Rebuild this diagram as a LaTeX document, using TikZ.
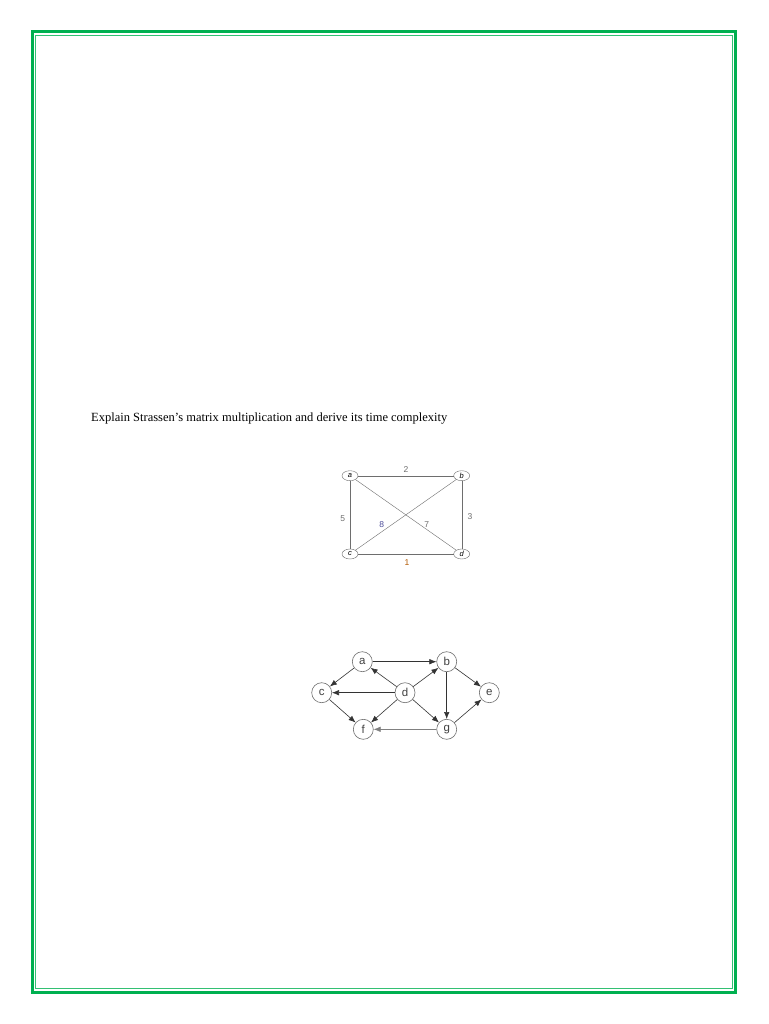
\documentclass[tikz,border=0pt]{standalone}
\usepackage{fontspec}
\setmainfont{Liberation Serif}
\newfontfamily\arialfont{Liberation Sans}
\usetikzlibrary{shapes.geometric,arrows.meta}
\definecolor{borderg}{RGB}{0,176,80}
\definecolor{edgegray}{RGB}{110,110,110}
\tikzset{
	wnode/.style={ellipse,draw=edgegray,inner sep=0pt,minimum width=16pt,minimum height=10pt,font=\arialfont\itshape\fontsize{7.5}{7.5}\selectfont},
	wlabel/.style={font=\arialfont\fontsize{8.5}{8.5}\selectfont,text=edgegray},
	dnode/.style={circle,draw=edgegray,line width=0.6pt,inner sep=0pt,minimum size=20pt,font=\arialfont\fontsize{11.5}{11.5}\selectfont,text=black!75},
	darrow/.style={-{Latex[length=7pt,width=5.5pt]},black!80,line width=0.6pt}
}
\begin{document}
\begin{tikzpicture}[x=1pt,y=-1pt]
		\useasboundingbox (0,0) rectangle (768,1024);
		\fill[white] (0,0) rectangle (768,1024);
		\draw[borderg,line width=3pt] (32,32) rectangle (735.5,992);
		\draw[borderg!80,line width=0.9pt] (35.5,35.5) rectangle (732,988.5);

		\node[anchor=base west,inner sep=0pt,font=\fontsize{12.5}{14}\selectfont] (question) at (91,421) {Explain Strassen’s matrix multiplication and derive its time complexity};

		% weighted graph
		\node[wnode] (a) at (350,475.7) {a};
		\node[wnode] (b) at (461.7,475.7) {b};
		\node[wnode] (c) at (350,554) {c};
		\node[wnode] (d) at (461.7,554) {d};
		\draw[edgegray] (a) -- (b);
		\draw[edgegray] (a) -- (c);
		\draw[edgegray] (b) -- (d);
		\draw[edgegray] (c) -- (d);
		\draw[edgegray] (a) -- (d);
		\draw[edgegray] (c) -- (b);
		\node[wlabel] (w2) at (406,469.5) {2};
		\node[wlabel] (w5) at (342.7,518.5) {5};
		\node[wlabel] (w3) at (470,516.5) {3};
		\node[wlabel,text=blue!30!edgegray] (w8) at (381.7,524.5) {8};
		\node[wlabel] (w7) at (426.7,525) {7};
		\node[wlabel,text=orange!70!black] (w1) at (407,562.5) {1};

		% directed graph
		\node[dnode] (da) at (362.3,661.7) {a};
		\node[dnode] (db) at (446.7,661.7) {b};
		\node[dnode] (dc) at (321.7,692.7) {c};
		\node[dnode] (dd) at (405,692.7) {d};
		\node[dnode] (de) at (489.3,692.7) {e};
		\node[dnode] (df) at (363.3,729.3) {f};
		\node[dnode] (dg) at (446.7,729.3) {g};
		\draw[darrow] (da) -- (db);
		\draw[darrow] (da) -- (dc);
		\draw[darrow] (dd) -- (da);
		\draw[darrow] (dd) -- (dc);
		\draw[darrow] (dd) -- (db);
		\draw[darrow] (dd) -- (df);
		\draw[darrow] (dd) -- (dg);
		\draw[darrow] (dc) -- (df);
		\draw[darrow] (db) -- (de);
		\draw[darrow] (db) -- (dg);
		\draw[darrow] (dg) -- (de);
		\draw[darrow,black!50] (dg) -- (df);
	\end{tikzpicture}
\end{document}
